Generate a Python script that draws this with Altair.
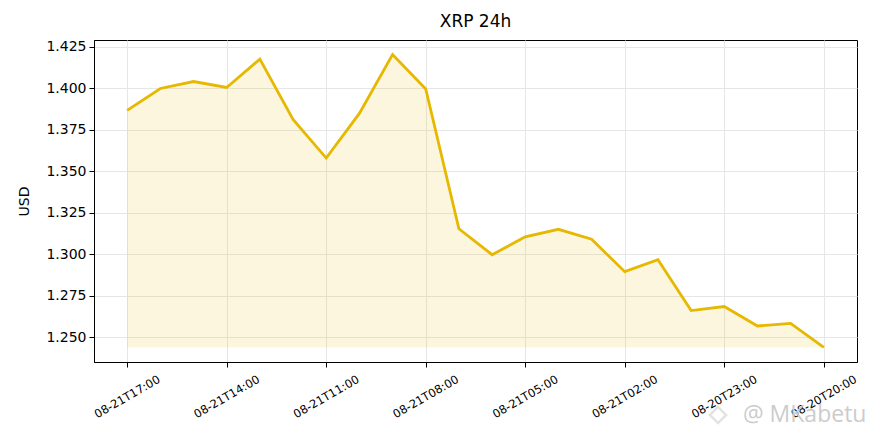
import altair as alt
import pandas as pd

times = ["08-21T17:00", "08-21T16:00", "08-21T15:00", "08-21T14:00", "08-21T13:00",
         "08-21T12:00", "08-21T11:00", "08-21T10:00", "08-21T09:00", "08-21T08:00",
         "08-21T07:00", "08-21T06:00", "08-21T05:00", "08-21T04:00", "08-21T03:00",
         "08-21T02:00", "08-21T01:00", "08-21T00:00", "08-20T23:00", "08-20T22:00",
         "08-20T21:00", "08-20T20:00"]
prices = [1.3866, 1.3998, 1.4040, 1.4004, 1.4175, 1.3812, 1.3579, 1.3848, 1.4202, 1.3995,
          1.3153, 1.2997, 1.3105, 1.3150, 1.3090, 1.2895, 1.2967, 1.2661, 1.2685, 1.2568,
          1.2583, 1.2439]
tick_labels = times[::3]
y_ticks = [1.250, 1.275, 1.300, 1.325, 1.350, 1.375, 1.400, 1.425]

df = pd.DataFrame({"time": times, "price": prices})
df["base"] = min(prices)

LINE = "#E6B800"
FONT = "DejaVu Sans"

x_enc = alt.X("time:O", sort=None,
              scale=alt.Scale(type="point", padding=1.05),
              axis=alt.Axis(values=tick_labels, title=None, labelAngle=330,
                            labelAlign="center", labelBaseline="middle",
                            labelPadding=30, labelFontSize=11.5, labelFont=FONT,
                            labelOverlap=False, grid=True))
y_enc = alt.Y("price:Q",
              scale=alt.Scale(domain=[1.2351, 1.4290], nice=False, zero=False),
              axis=alt.Axis(values=y_ticks, format=".3f", title="USD",
                            titleFontSize=14, titleFontWeight="normal", titleFont=FONT,
                            titleX=-70, titleY=161, titleAngle=270,
                            titleAlign="center", titleBaseline="middle",
                            labelFontSize=14, labelFont=FONT, labelPadding=3, grid=True))

base = alt.Chart(df)
area = base.mark_area(color=LINE, opacity=0.13).encode(x=x_enc, y=y_enc, y2="base:Q")
line = base.mark_line(color=LINE, strokeWidth=2.8).encode(x=x_enc, y=y_enc)

wm_df = pd.DataFrame({"t": ["@ MKabetu"]})
wm = alt.Chart(wm_df).mark_text(align="left", baseline="middle", fontSize=23,
                                font="Open Sans", color="#cccccc", clip=False).encode(
    x=alt.value(649), y=alt.value(375), text="t:N")
logo = alt.Chart(wm_df).mark_point(shape="diamond", size=260, filled=False,
                                   color="#d8d8d8", strokeWidth=2.5, clip=False).encode(
    x=alt.value(624), y=alt.value(375))

chart = alt.layer(area, line, logo, wm).properties(
    width=763, height=322,
    background="white",
    title=alt.TitleParams("XRP 24h", fontSize=17, font=FONT, fontWeight="normal",
                          anchor="middle", offset=9, color="black"),
    autosize=alt.AutoSizeParams(type="none"),
    padding={"left": 86, "top": 32, "right": 15, "bottom": 70},
).configure_view(stroke="black", strokeWidth=1).configure_axis(
    domainColor="black", tickColor="black", labelColor="black", titleColor="black",
    labelFont=FONT, titleFont=FONT, gridColor="#e6e6e6", tickSize=5, tickWidth=1,
    domainWidth=1
)

chart.save("out.html", embed_options={"renderer": "svg", "actions": False})
